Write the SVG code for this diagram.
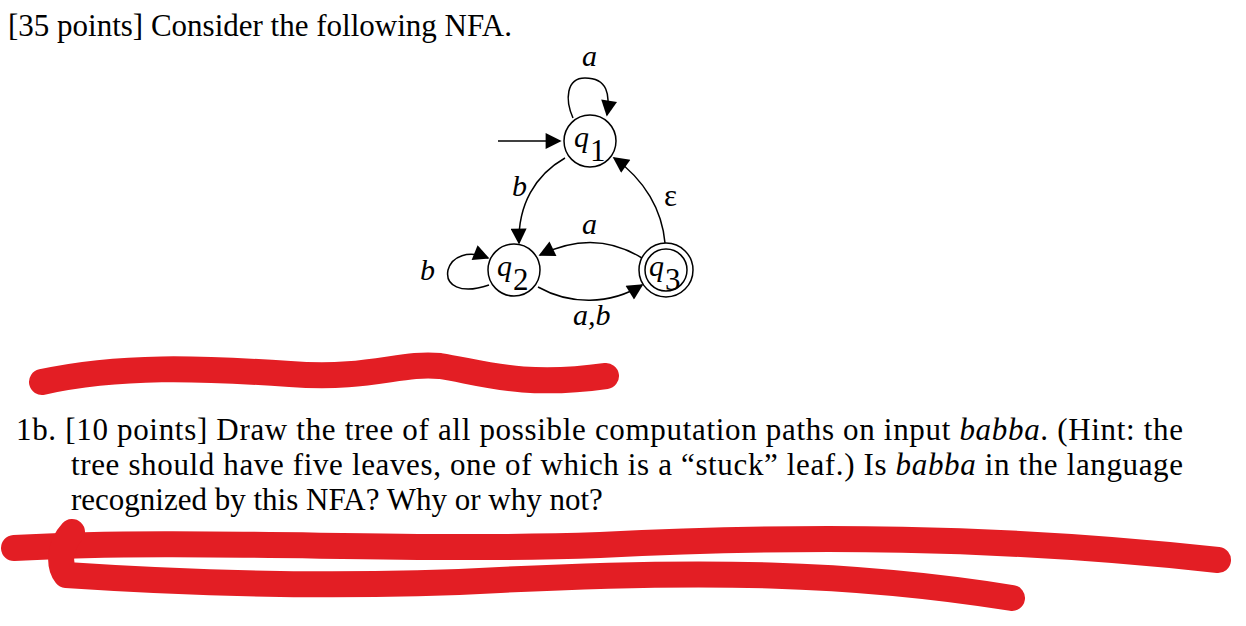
<svg xmlns="http://www.w3.org/2000/svg" width="1246" height="626" viewBox="0 0 1246 626">
<style>
.t{font-family:"Liberation Serif",serif;font-size:31px;fill:#000}
.l{font-family:"Liberation Serif",serif;font-size:30px;font-style:italic;fill:#000}
.s{fill:#fff;stroke:#000;stroke-width:1.5}
.e{fill:none;stroke:#000;stroke-width:1.5}
.r{fill:none;stroke:#e31e24;stroke-width:26;stroke-linecap:round;stroke-linejoin:round}
</style>
<defs><marker id="a" viewBox="0 0 10 10" refX="9" refY="5" markerWidth="20" markerHeight="16" markerUnits="userSpaceOnUse" orient="auto"><path d="M0,0L10,5L0,10z" fill="#000"/></marker></defs>
<rect width="1246" height="626" fill="#fff"/>
<text class="t" x="8" y="36">[35 points] Consider the following NFA.</text>
<g id="edges">
<path class="e" d="M498,141H560" marker-end="url(#a)"/>
<path class="e" d="M573,118C565,100 566,78 585,78C608,78 610,95 607,115" marker-end="url(#a)"/>
<path class="e" d="M565,158C535,175 518,205 519,243" marker-end="url(#a)"/>
<path class="e" d="M665,243C662,210 645,180 614,158" marker-end="url(#a)"/>
<path class="e" d="M642,258C610,238 575,238 540,255" marker-end="url(#a)"/>
<path class="e" d="M538,287C570,305 610,305 642,285" marker-end="url(#a)"/>
<path class="e" d="M489,285C460,295 445,285 448,270C452,256 468,250 488,258" marker-end="url(#a)"/>
</g>
<g id="q1"><circle class="s" cx="590" cy="141" r="26"/><text class="l" x="574" y="147">q</text><text class="t" x="590" y="161" font-size="24">1</text></g>
<g id="q2"><circle class="s" cx="514" cy="270" r="26"/><text class="l" x="497" y="276">q</text><text class="t" x="513" y="290" font-size="24">2</text></g>
<g id="q3"><circle class="s" cx="666" cy="270" r="27"/><circle class="e" cx="666" cy="270" r="21"/><text class="l" x="649" y="276">q</text><text class="t" x="665" y="290" font-size="24">3</text></g>
<g id="labels">
<text class="l" x="582" y="66">a</text>
<text class="l" x="512" y="196">b</text>
<text class="t" x="664" y="206" font-size="32">ε</text>
<text class="l" x="582" y="234">a</text>
<text class="l" x="420" y="280">b</text>
<text class="l" x="573" y="325">a,b</text>
</g>
<text class="t" x="16" y="440" textLength="1167" lengthAdjust="spacing">1b. [10 points] Draw the tree of all possible computation paths on input <tspan font-style="italic">babba</tspan>. (Hint: the</text>
<text class="t" x="71" y="475" textLength="1112" lengthAdjust="spacing">tree should have five leaves, one of which is a “stuck” leaf.)  Is <tspan font-style="italic">babba</tspan> in the language</text>
<text class="t" x="71" y="510">recognized by this NFA? Why or why not?</text>
<path class="r" d="M42,382C120,365 200,368 290,374C370,380 400,362 440,366C480,372 520,388 606,376"/>
<path class="r" d="M14,548C200,538 400,552 600,545C800,535 1000,536 1218,560"/>
<path class="r" d="M72,532C60,545 58,565 66,575C200,584 350,588 500,580C700,570 850,572 1012,598"/>
</svg>
